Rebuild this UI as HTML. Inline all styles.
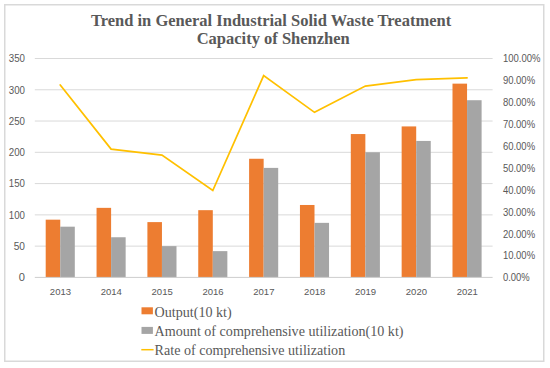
<!DOCTYPE html><html><head><meta charset="utf-8"><style>html,body{margin:0;padding:0;background:#fff;}svg{display:block}</style></head><body>
<svg width="550" height="368" viewBox="0 0 550 368">
<rect x="0" y="0" width="550" height="368" fill="#fff"/>
<rect x="4.75" y="4.75" width="539" height="356.5" fill="none" stroke="#d9d9d9" stroke-width="1.5"/>
<text x="271.05" y="25.5" text-anchor="middle" font-family="Liberation Serif" font-weight="bold" font-size="16.5" fill="#595959">Trend in General Industrial Solid Waste Treatment</text>
<text x="273.2" y="44.4" text-anchor="middle" font-family="Liberation Serif" font-weight="bold" font-size="16.5" fill="#595959">Capacity of Shenzhen</text>
<line x1="34.8" y1="246.13" x2="492.6" y2="246.13" stroke="#d9d9d9" stroke-width="1"/>
<line x1="34.8" y1="214.86" x2="492.6" y2="214.86" stroke="#d9d9d9" stroke-width="1"/>
<line x1="34.8" y1="183.59" x2="492.6" y2="183.59" stroke="#d9d9d9" stroke-width="1"/>
<line x1="34.8" y1="152.31" x2="492.6" y2="152.31" stroke="#d9d9d9" stroke-width="1"/>
<line x1="34.8" y1="121.04" x2="492.6" y2="121.04" stroke="#d9d9d9" stroke-width="1"/>
<line x1="34.8" y1="89.77" x2="492.6" y2="89.77" stroke="#d9d9d9" stroke-width="1"/>
<line x1="34.8" y1="58.50" x2="492.6" y2="58.50" stroke="#d9d9d9" stroke-width="1"/>
<text x="18.80" y="281.30" textLength="6.2" lengthAdjust="spacingAndGlyphs" font-family="Liberation Sans" font-size="10.2" fill="#595959">0</text>
<text x="13.70" y="250.03" textLength="11.3" lengthAdjust="spacingAndGlyphs" font-family="Liberation Sans" font-size="10.2" fill="#595959">50</text>
<text x="8.80" y="218.76" textLength="16.2" lengthAdjust="spacingAndGlyphs" font-family="Liberation Sans" font-size="10.2" fill="#595959">100</text>
<text x="8.80" y="187.49" textLength="16.2" lengthAdjust="spacingAndGlyphs" font-family="Liberation Sans" font-size="10.2" fill="#595959">150</text>
<text x="8.80" y="156.21" textLength="16.2" lengthAdjust="spacingAndGlyphs" font-family="Liberation Sans" font-size="10.2" fill="#595959">200</text>
<text x="8.80" y="124.94" textLength="16.2" lengthAdjust="spacingAndGlyphs" font-family="Liberation Sans" font-size="10.2" fill="#595959">250</text>
<text x="8.80" y="93.67" textLength="16.2" lengthAdjust="spacingAndGlyphs" font-family="Liberation Sans" font-size="10.2" fill="#595959">300</text>
<text x="8.80" y="62.40" textLength="16.2" lengthAdjust="spacingAndGlyphs" font-family="Liberation Sans" font-size="10.2" fill="#595959">350</text>
<text x="502.9" y="281.30" textLength="26.8" lengthAdjust="spacingAndGlyphs" font-family="Liberation Sans" font-size="10.2" fill="#595959">0.00%</text>
<text x="502.9" y="259.41" textLength="32.2" lengthAdjust="spacingAndGlyphs" font-family="Liberation Sans" font-size="10.2" fill="#595959">10.00%</text>
<text x="502.9" y="237.52" textLength="32.2" lengthAdjust="spacingAndGlyphs" font-family="Liberation Sans" font-size="10.2" fill="#595959">20.00%</text>
<text x="502.9" y="215.63" textLength="32.2" lengthAdjust="spacingAndGlyphs" font-family="Liberation Sans" font-size="10.2" fill="#595959">30.00%</text>
<text x="502.9" y="193.74" textLength="32.2" lengthAdjust="spacingAndGlyphs" font-family="Liberation Sans" font-size="10.2" fill="#595959">40.00%</text>
<text x="502.9" y="171.85" textLength="32.2" lengthAdjust="spacingAndGlyphs" font-family="Liberation Sans" font-size="10.2" fill="#595959">50.00%</text>
<text x="502.9" y="149.96" textLength="32.2" lengthAdjust="spacingAndGlyphs" font-family="Liberation Sans" font-size="10.2" fill="#595959">60.00%</text>
<text x="502.9" y="128.07" textLength="32.2" lengthAdjust="spacingAndGlyphs" font-family="Liberation Sans" font-size="10.2" fill="#595959">70.00%</text>
<text x="502.9" y="106.18" textLength="32.2" lengthAdjust="spacingAndGlyphs" font-family="Liberation Sans" font-size="10.2" fill="#595959">80.00%</text>
<text x="502.9" y="84.29" textLength="32.2" lengthAdjust="spacingAndGlyphs" font-family="Liberation Sans" font-size="10.2" fill="#595959">90.00%</text>
<text x="502.9" y="62.40" textLength="37.5" lengthAdjust="spacingAndGlyphs" font-family="Liberation Sans" font-size="10.2" fill="#595959">100.00%</text>
<rect x="45.70" y="219.67" width="14.55" height="57.73" fill="#ed7d31"/>
<rect x="60.25" y="226.68" width="14.55" height="50.72" fill="#a5a5a5"/>
<rect x="96.55" y="207.85" width="14.55" height="69.55" fill="#ed7d31"/>
<rect x="111.10" y="237.25" width="14.55" height="40.15" fill="#a5a5a5"/>
<rect x="147.40" y="222.11" width="14.55" height="55.29" fill="#ed7d31"/>
<rect x="161.95" y="246.13" width="14.55" height="31.27" fill="#a5a5a5"/>
<rect x="198.25" y="210.17" width="14.55" height="67.23" fill="#ed7d31"/>
<rect x="212.80" y="251.13" width="14.55" height="26.27" fill="#a5a5a5"/>
<rect x="249.10" y="158.76" width="14.55" height="118.64" fill="#ed7d31"/>
<rect x="263.65" y="167.89" width="14.55" height="109.51" fill="#a5a5a5"/>
<rect x="299.95" y="204.98" width="14.55" height="72.42" fill="#ed7d31"/>
<rect x="314.50" y="222.86" width="14.55" height="54.54" fill="#a5a5a5"/>
<rect x="350.80" y="134.05" width="14.55" height="143.35" fill="#ed7d31"/>
<rect x="365.35" y="152.25" width="14.55" height="125.15" fill="#a5a5a5"/>
<rect x="401.65" y="126.42" width="14.55" height="150.98" fill="#ed7d31"/>
<rect x="416.20" y="140.93" width="14.55" height="136.47" fill="#a5a5a5"/>
<rect x="452.50" y="83.64" width="14.55" height="193.76" fill="#ed7d31"/>
<rect x="467.05" y="100.22" width="14.55" height="177.18" fill="#a5a5a5"/>
<line x1="34.8" y1="277.4" x2="492.6" y2="277.4" stroke="#cdcdcd" stroke-width="1"/>
<polyline points="60.25,84.99 111.10,149.12 161.95,155.03 212.80,190.50 263.65,75.57 314.50,112.35 365.35,86.08 416.20,79.62 467.05,77.87" fill="none" stroke="#ffc000" stroke-width="1.75" stroke-linejoin="miter" stroke-linecap="round"/>
<text x="49.85" y="295" textLength="21.2" lengthAdjust="spacingAndGlyphs" font-family="Liberation Sans" font-size="9.9" fill="#595959">2013</text>
<text x="100.70" y="295" textLength="21.2" lengthAdjust="spacingAndGlyphs" font-family="Liberation Sans" font-size="9.9" fill="#595959">2014</text>
<text x="151.55" y="295" textLength="21.2" lengthAdjust="spacingAndGlyphs" font-family="Liberation Sans" font-size="9.9" fill="#595959">2015</text>
<text x="202.40" y="295" textLength="21.2" lengthAdjust="spacingAndGlyphs" font-family="Liberation Sans" font-size="9.9" fill="#595959">2016</text>
<text x="253.25" y="295" textLength="21.2" lengthAdjust="spacingAndGlyphs" font-family="Liberation Sans" font-size="9.9" fill="#595959">2017</text>
<text x="304.10" y="295" textLength="21.2" lengthAdjust="spacingAndGlyphs" font-family="Liberation Sans" font-size="9.9" fill="#595959">2018</text>
<text x="354.95" y="295" textLength="21.2" lengthAdjust="spacingAndGlyphs" font-family="Liberation Sans" font-size="9.9" fill="#595959">2019</text>
<text x="405.80" y="295" textLength="21.2" lengthAdjust="spacingAndGlyphs" font-family="Liberation Sans" font-size="9.9" fill="#595959">2020</text>
<text x="456.65" y="295" textLength="21.2" lengthAdjust="spacingAndGlyphs" font-family="Liberation Sans" font-size="9.9" fill="#595959">2021</text>
<rect x="141.5" y="307.3" width="11.4" height="7" fill="#ed7d31"/>
<rect x="141.5" y="326.9" width="11.4" height="7" fill="#a5a5a5"/>
<line x1="141.3" y1="349.7" x2="153.6" y2="349.7" stroke="#ffc000" stroke-width="1.5"/>
<text x="154.6" y="316.8" font-family="Liberation Serif" font-size="14.1" fill="#595959">Output(10 kt)</text>
<text x="154.6" y="336" font-family="Liberation Serif" font-size="14.1" fill="#595959">Amount of comprehensive utilization(10 kt)</text>
<text x="154.6" y="355.1" font-family="Liberation Serif" font-size="14.1" fill="#595959">Rate of comprehensive utilization</text>
</svg></body></html>
